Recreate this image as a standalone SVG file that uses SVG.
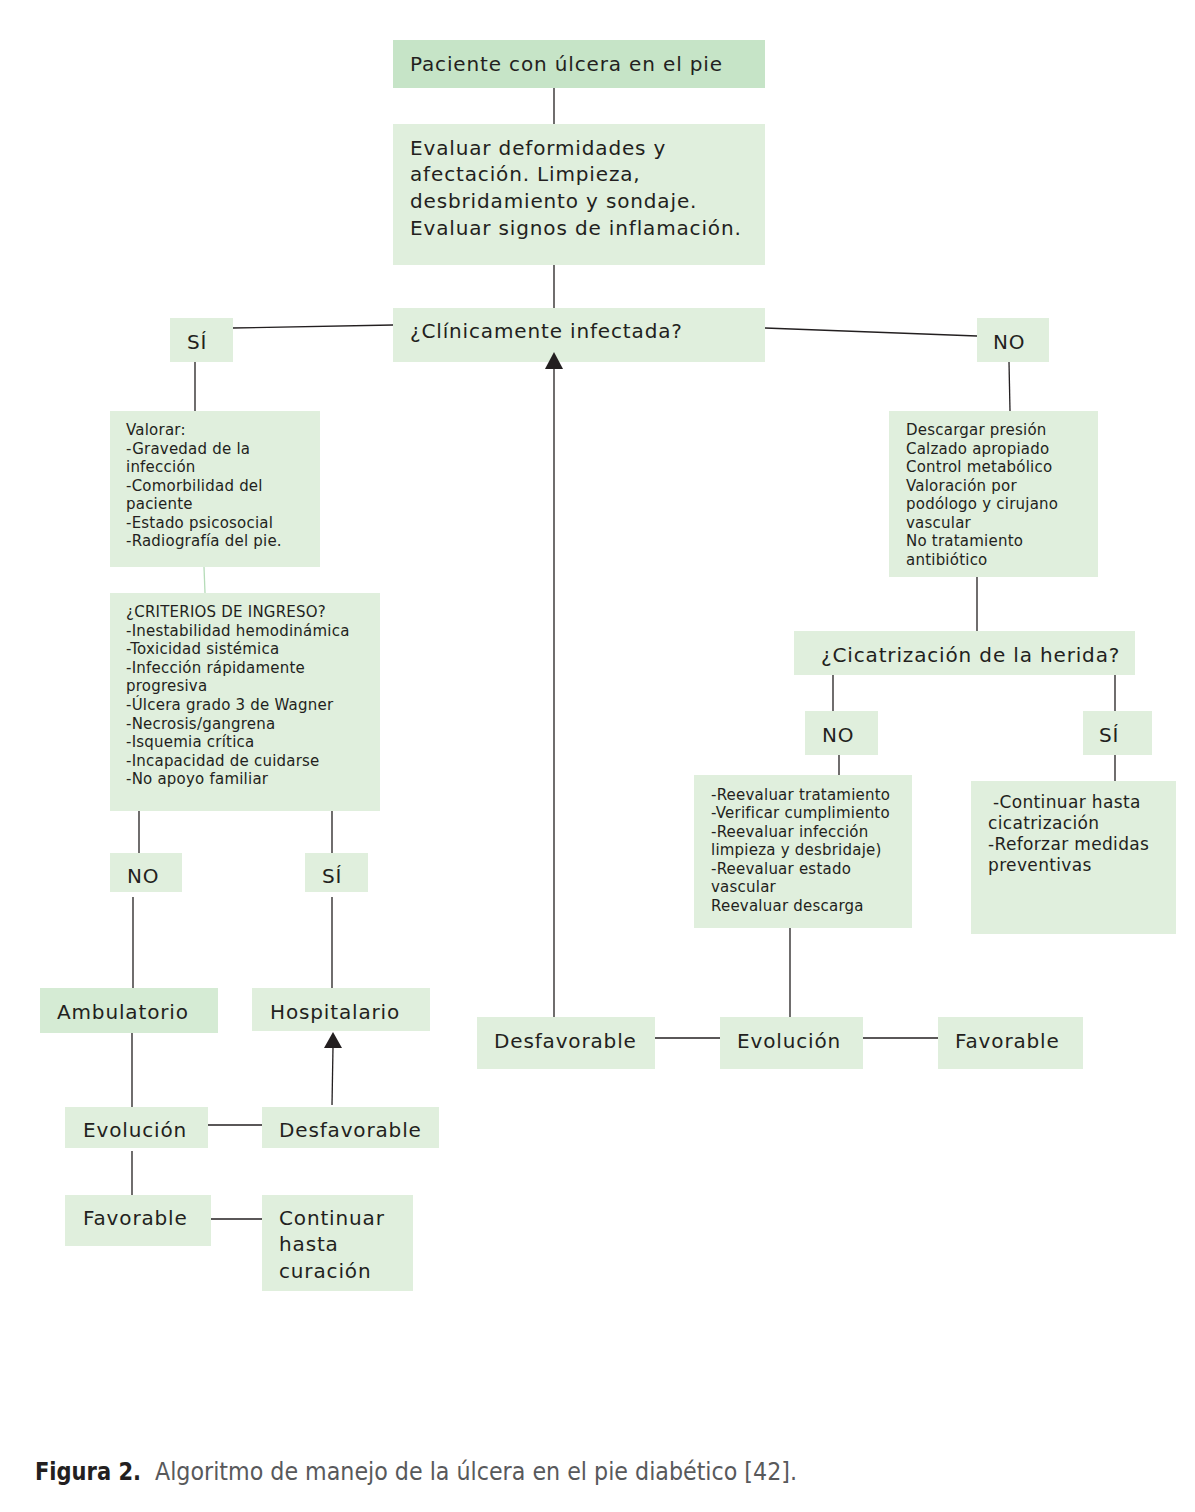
<svg xmlns="http://www.w3.org/2000/svg" width="1195" height="1512" viewBox="0 0 1195 1512">
<style>
.b{fill:#e0efdd}
.d{fill:#c6e4c7}
.m{fill:#d5ebd4}
text{font-family:"DejaVu Sans",Verdana,sans-serif;fill:#231f20}
.L{font-size:20px;letter-spacing:0.85px}
.S{font-size:15px;letter-spacing:0.22px}
.M{font-size:17px;letter-spacing:0.35px}
.c line{stroke:#231f20;stroke-width:1.3}
.cap{font-family:"DejaVu Sans Condensed","DejaVu Sans",sans-serif;font-size:24px}
</style>
<rect width="1195" height="1512" fill="#ffffff"/>

<g class="c" id="connectors">
<line x1="554" y1="88" x2="554" y2="124"/>
<line x1="554" y1="265" x2="554" y2="308"/>
<line x1="232" y1="328" x2="393" y2="325"/>
<line x1="765" y1="328" x2="977" y2="336"/>
<line x1="195" y1="362" x2="195" y2="411"/>
<line x1="204" y1="567" x2="205" y2="593" style="stroke:#b5dcb8"/>
<line x1="139" y1="811" x2="139" y2="853"/>
<line x1="332" y1="811" x2="332" y2="853"/>
<line x1="133" y1="897" x2="133" y2="988"/>
<line x1="332" y1="897" x2="332" y2="988"/>
<line x1="132" y1="1033" x2="132" y2="1107"/>
<line x1="205" y1="1125" x2="262" y2="1125"/>
<line x1="332" y1="1105" x2="333" y2="1047"/>
<line x1="132" y1="1151" x2="132" y2="1195"/>
<line x1="211" y1="1219" x2="262" y2="1219"/>
<line x1="1009" y1="362" x2="1010" y2="411"/>
<line x1="977" y1="577" x2="977" y2="631"/>
<line x1="833" y1="675" x2="833" y2="711"/>
<line x1="1115" y1="675" x2="1115" y2="711"/>
<line x1="839" y1="755" x2="839" y2="775"/>
<line x1="1115" y1="755" x2="1115" y2="781"/>
<line x1="790" y1="928" x2="790" y2="1017"/>
<line x1="655" y1="1038" x2="720" y2="1038"/>
<line x1="863" y1="1038" x2="938" y2="1038"/>
<line x1="554" y1="1017" x2="554" y2="368"/>
</g>

<g id="n1"><rect class="d" x="393" y="40" width="372" height="48"/><text class="L" x="410" y="71">Paciente con úlcera en el pie</text></g>
<g id="n2"><rect class="b" x="393" y="124" width="372" height="141"/>
<text class="L" x="410" y="155">Evaluar deformidades y</text>
<text class="L" x="410" y="181">afectación. Limpieza,</text>
<text class="L" x="410" y="208">desbridamiento y sondaje.</text>
<text class="L" x="410" y="235">Evaluar signos de inflamación.</text></g>
<g id="n3"><rect class="b" x="393" y="308" width="372" height="54"/><text class="L" x="410" y="338">¿Clínicamente infectada?</text></g>
<g id="arrow-main"><path d="M554,352 L545,369 L563,369 z" fill="#231f20"/></g>
<g id="si1"><rect class="b" x="170" y="318" width="63" height="44"/><text class="L" x="187" y="349">SÍ</text></g>
<g id="no1"><rect class="b" x="977" y="318" width="72" height="44"/><text class="L" x="993" y="349">NO</text></g>

<g id="valorar"><rect class="b" x="110" y="411" width="210" height="156"/>
<text class="S" x="126" y="435">Valorar:</text>
<text class="S" x="126" y="454">-Gravedad de la</text>
<text class="S" x="126" y="472">infección</text>
<text class="S" x="126" y="491">-Comorbilidad del</text>
<text class="S" x="126" y="509">paciente</text>
<text class="S" x="126" y="528">-Estado psicosocial</text>
<text class="S" x="126" y="546">-Radiografía del pie.</text></g>

<g id="criterios"><rect class="b" x="110" y="593" width="270" height="218"/>
<text class="S" x="126" y="617">¿CRITERIOS DE INGRESO?</text>
<text class="S" x="126" y="636">-Inestabilidad hemodinámica</text>
<text class="S" x="126" y="654">-Toxicidad sistémica</text>
<text class="S" x="126" y="673">-Infección rápidamente</text>
<text class="S" x="126" y="691">progresiva</text>
<text class="S" x="126" y="710">-Úlcera grado 3 de Wagner</text>
<text class="S" x="126" y="729">-Necrosis/gangrena</text>
<text class="S" x="126" y="747">-Isquemia crítica</text>
<text class="S" x="126" y="766">-Incapacidad de cuidarse</text>
<text class="S" x="126" y="784">-No apoyo familiar</text></g>

<g id="no2"><rect class="b" x="110" y="853" width="72" height="39"/><text class="L" x="127" y="883">NO</text></g>
<g id="si2"><rect class="b" x="305" y="853" width="63" height="39"/><text class="L" x="322" y="883">SÍ</text></g>
<g id="ambulatorio"><rect class="m" x="40" y="988" width="178" height="45"/><text class="L" x="57" y="1019">Ambulatorio</text></g>
<g id="hospitalario"><rect class="b" x="252" y="988" width="178" height="43"/><text class="L" x="270" y="1019">Hospitalario</text></g>
<g id="arrow-hosp"><path d="M333,1032 L324,1048 L342,1048 z" fill="#231f20"/></g>
<g id="evol1"><rect class="b" x="65" y="1107" width="143" height="41"/><text class="L" x="83" y="1137">Evolución</text></g>
<g id="desf1"><rect class="b" x="262" y="1107" width="177" height="41"/><text class="L" x="279" y="1137">Desfavorable</text></g>
<g id="fav1"><rect class="b" x="65" y="1195" width="146" height="51"/><text class="L" x="83" y="1225">Favorable</text></g>
<g id="cont1"><rect class="b" x="262" y="1195" width="151" height="96"/>
<text class="L" x="279" y="1225">Continuar</text>
<text class="L" x="279" y="1251">hasta</text>
<text class="L" x="279" y="1278">curación</text></g>

<g id="descargar"><rect class="b" x="889" y="411" width="209" height="166"/>
<text class="S" x="906" y="435">Descargar presión</text>
<text class="S" x="906" y="454">Calzado apropiado</text>
<text class="S" x="906" y="472">Control metabólico</text>
<text class="S" x="906" y="491">Valoración por</text>
<text class="S" x="906" y="509">podólogo y cirujano</text>
<text class="S" x="906" y="528">vascular</text>
<text class="S" x="906" y="546">No tratamiento</text>
<text class="S" x="906" y="565">antibiótico</text></g>
<g id="cicatriz"><rect class="b" x="794" y="631" width="341" height="44"/><text class="L" x="821" y="662">¿Cicatrización de la herida?</text></g>
<g id="no3"><rect class="b" x="805" y="711" width="73" height="44"/><text class="L" x="822" y="742">NO</text></g>
<g id="si3"><rect class="b" x="1083" y="711" width="69" height="44"/><text class="L" x="1099" y="742">SÍ</text></g>
<g id="reevaluar"><rect class="b" x="694" y="775" width="218" height="153"/>
<text class="S" x="711" y="800">-Reevaluar tratamiento</text>
<text class="S" x="711" y="818">-Verificar cumplimiento</text>
<text class="S" x="711" y="837">-Reevaluar infección</text>
<text class="S" x="711" y="855">limpieza y desbridaje)</text>
<text class="S" x="711" y="874">-Reevaluar estado</text>
<text class="S" x="711" y="892">vascular</text>
<text class="S" x="711" y="911">Reevaluar descarga</text></g>
<g id="continuar2"><rect class="b" x="971" y="781" width="205" height="153"/>
<text class="M" x="993" y="808">-Continuar hasta</text>
<text class="M" x="988" y="829">cicatrización</text>
<text class="M" x="988" y="850">-Reforzar medidas</text>
<text class="M" x="988" y="871">preventivas</text></g>
<g id="desf2"><rect class="b" x="477" y="1017" width="178" height="52"/><text class="L" x="494" y="1048">Desfavorable</text></g>
<g id="evol2"><rect class="b" x="720" y="1017" width="143" height="52"/><text class="L" x="737" y="1048">Evolución</text></g>
<g id="fav2"><rect class="b" x="938" y="1017" width="145" height="52"/><text class="L" x="955" y="1048">Favorable</text></g>

<g id="caption">
<text class="cap" x="35" y="1480" font-weight="bold" textLength="106" lengthAdjust="spacingAndGlyphs">Figura 2.</text>
<text class="cap" x="155" y="1480" style="fill:#58595b" textLength="642" lengthAdjust="spacingAndGlyphs">Algoritmo de manejo de la úlcera en el pie diabético [42].</text>
</g>
</svg>
